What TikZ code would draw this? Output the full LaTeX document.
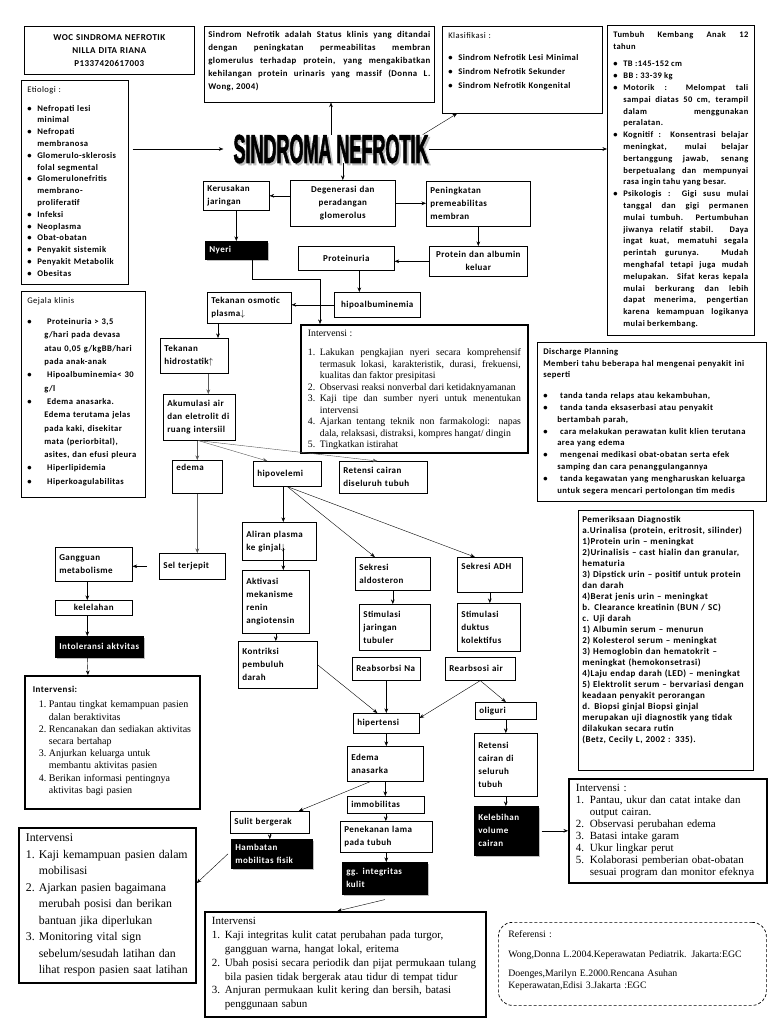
\documentclass[tikz,border=0pt]{standalone}
\usepackage{fontspec}
\usepackage{graphicx}
\usetikzlibrary{positioning,arrows.meta,shadows}

\newfontfamily\calfont[LetterSpace=5]{Carlito}
\newfontfamily\tmsfont{Liberation Serif}
\newfontfamily\ttlfont[FakeBold=2.5]{Liberation Sans Bold}
\setlength{\parindent}{0pt}

% list lines with a hanging indent
\newcommand{\bitem}[1][10pt]{\par\noindent\hangindent=#1\hangafter=1\makebox[#1][l]{\textbullet}}
\newcommand{\nitem}[2][13pt]{\par\noindent\hangindent=#1\hangafter=1\makebox[#1][l]{#2}}

\begin{document}
\begin{tikzpicture}[x=1pt,y=-1pt,
  >={Stealth[length=4.5pt,width=3.6pt]},
  box/.style={draw,line width=0.6pt,fill=white,anchor=north west,
              inner xsep=4pt,inner ysep=3pt,align=left,
              font=\calfont\bfseries\fontsize{9}{13}\selectfont},
  dark/.style={box,fill=black,text=white,
               drop shadow={shadow xshift=2pt,shadow yshift=-2pt,fill=black!25,opacity=1}},
  lst/.style={draw,line width=0.6pt,fill=white,anchor=north west,
              inner xsep=6pt,inner ysep=4pt,align=left,text height=8pt,
              font=\calfont\bfseries\fontsize{8.6}{11.8}\selectfont},
  intv/.style={draw,line width=1.8pt,fill=white,anchor=north west,
               inner xsep=7pt,inner ysep=4pt,align=left,text height=9pt,
               font=\tmsfont\fontsize{10}{12}\selectfont},
  headline/.style={inner sep=0pt,font=\ttlfont\fontsize{40}{40}\selectfont},
  soft/.style={->,gray!70!black}]

\fill[white] (0,0) rectangle (768,1024);
\useasboundingbox (0,0) rectangle (768,1024);

% ============ Header row ============
\node[box,text width=162pt,minimum height=48pt,align=center] (woc) at (24,26)
  {WOC SINDROMA NEFROTIK\\NILLA DITA RIANA\\P1337420617003};
\node[box,text width=222pt,align=justify,text height=8pt,text depth=62pt,
      font=\calfont\bfseries\fontsize{8.8}{13}\selectfont] (def) at (204,26)
  {Sindrom Nefrotik adalah Status klinis yang ditandai\linebreak
   dengan peningkatan permeabilitas membran\linebreak
   glomerulus terhadap protein, yang mengakibatkan\linebreak
   kehilangan protein urinaris yang massif (Donna L.\linebreak
   Wong, 2004)};
\node[lst,text width=148pt,text depth=71pt,
      font=\calfont\bfseries\fontsize{8.6}{14}\selectfont] (klas) at (442,26)
  {{\mdseries Klasifikasi :}\par\vspace{8pt}
   \bitem Sindrom Nefrotik Lesi Minimal
   \bitem Sindrom Nefrotik Sekunder
   \bitem Sindrom Nefrotik Kongenital\par};
\node[lst,text width=135pt,align=justify,text depth=294pt,
      font=\calfont\bfseries\fontsize{8.5}{11.8}\selectfont] (tumbuh) at (607,25)
  {Tumbuh Kembang Anak 12\linebreak tahun\par\vspace{6pt}
   \bitem TB :145-152 cm
   \bitem BB : 33-39 kg
   \bitem Motorik : Melompat tali\linebreak sampai diatas 50 cm, terampil\linebreak
     dalam menggunakan\linebreak peralatan.
   \bitem Kognitif : Konsentrasi belajar\linebreak meningkat, mulai belajar\linebreak
     bertanggung jawab, senang\linebreak berpetualang dan mempunyai\linebreak
     rasa ingin tahu yang besar.
   \bitem Psikologis : Gigi susu mulai\linebreak tanggal dan gigi permanen\linebreak
     mulai tumbuh. Pertumbuhan\linebreak jiwanya relatif stabil. Daya\linebreak
     ingat kuat, mematuhi segala\linebreak perintah gurunya. Mudah\linebreak
     menghafal tetapi juga mudah\linebreak melupakan. Sifat keras kepala\linebreak
     mulai berkurang dan lebih\linebreak dapat menerima, pengertian\linebreak
     karena kemampuan logikanya\linebreak mulai berkembang.\par};

% ============ Left column lists ============
\node[lst,text width=95pt,text depth=188pt] (etiologi) at (21,80)
  {{\mdseries Etiologi :}\par\vspace{7pt}
   \bitem Nefropati lesi\newline minimal
   \bitem Nefropati\newline membranosa
   \bitem Glomerulo-sklerosis\newline folal segmental
   \bitem Glomerulonefritis\newline membrano-\newline proliferatif
   \bitem Infeksi
   \bitem Neoplasma
   \bitem Obat-obatan
   \bitem Penyakit sistemik
   \bitem Penyakit Metabolik
   \bitem Obesitas\par};
\node[lst,text width=112pt,text depth=190pt,
      font=\calfont\bfseries\fontsize{8.6}{13.3}\selectfont] (gejala) at (21,291)
  {{\mdseries Gejala klinis}\par\vspace{8pt}
   \bitem[17pt] Proteinuria > 3,5\newline g/hari pada devasa\newline atau 0,05 g/kgBB/hari\newline pada anak-anak
   \bitem[17pt] Hipoalbuminemia< 30\newline g/l
   \bitem[17pt] Edema anasarka.\newline Edema terutama jelas\newline pada kaki, disekitar\newline mata (periorbital),\newline asites, dan efusi pleura
   \bitem[17pt] Hiperlipidemia
   \bitem[17pt] Hiperkoagulabilitas\par};

% ============ Title ============
\node[headline,text=gray!50] (titleshade) at (333,151) {\scalebox{0.45}[1]{SINDROMA NEFROTIK}};
\node[headline] (title) at (331,149) {\scalebox{0.45}[1]{SINDROMA NEFROTIK}};

% ============ Upper flow ============
\node[box,text width=58pt,minimum height=29pt] (kerusakan) at (203,181) {Kerusakan\\jaringan};
\node[box,text width=97pt,minimum height=46pt,align=center] (degenerasi) at (290,180)
  {Degenerasi dan\\peradangan\\glomerolus};
\node[box,text width=96pt,minimum height=45pt] (peningkatan) at (426,181)
  {Peningkatan\\premeabilitas\\membran};
\node[dark,text width=54pt,minimum height=18pt] (nyeri) at (205,241) {Nyeri};
\node[box,text width=88pt,minimum height=24pt,align=center] (proteinuria) at (298,246) {Proteinuria};
\node[box,text width=90pt,minimum height=30pt,align=center] (protalb) at (429,246)
  {Protein dan albumin\\keluar};
\node[box,text width=78pt,minimum height=25pt,align=center] (hipoalb) at (334,292) {hipoalbuminemia};
\node[box,text width=76pt,minimum height=31pt] (tekos) at (207,292) {Tekanan osmotic\\plasma$\downarrow$};
\node[box,text width=60pt,minimum height=35pt] (tekhid) at (160,338) {Tekanan\\hidrostatik$\uparrow$};
\node[box,text width=64pt,minimum height=46pt] (akum) at (163,394)
  {Akumulasi air\\dan eletrolit di\\ruang intersiil};

% ============ Middle flow ============
\node[box,text width=42pt,minimum height=33pt,text depth=18pt] (edema) at (172,460) {edema};
\node[box,text width=60pt,minimum height=25pt] (hipovelemi) at (253,461) {hipovelemi};
\node[box,text width=80pt,minimum height=32pt] (retensi) at (339,461) {Retensi cairan\\diseluruh tubuh};
\node[box,text width=58pt,minimum height=26pt] (selterjepit) at (159,553) {Sel terjepit};
\node[box,text width=66pt,minimum height=38pt] (aliran) at (242,522) {Aliran plasma\\ke ginjal$\downarrow$};
\node[box,text width=67pt,minimum height=33pt] (aldosteron) at (355,557) {Sekresi\\aldosteron};
\node[box,text width=57pt,minimum height=35pt,text depth=16pt] (adh) at (457,557) {Sekresi ADH};
\node[box,text width=59pt,minimum height=63pt] (aktivasi) at (242,570)
  {Aktivasi\\mekanisme\\renin\\angiotensin};
\node[box,text width=71pt,minimum height=47pt] (kontriksi) at (238,641) {Kontriksi\\pembuluh\\darah};
\node[box,text width=63pt,minimum height=46pt] (stimjaringan) at (359,604) {Stimulasi\\jaringan\\tubuler};
\node[box,text width=55pt,minimum height=48pt] (stimduktus) at (457,603) {Stimulasi\\duktus\\kolektifus};
\node[box,text width=60pt,minimum height=23pt] (reabna) at (352,657) {Reabsorbsi Na};
\node[box,text width=62pt,minimum height=23pt] (reabair) at (445,657) {Rearbsosi air};

% ============ Activity branch ============
\node[box,text width=69pt,minimum height=34pt] (gangguan) at (55,547) {Gangguan\\metabolisme};
\node[box,text width=69pt,minimum height=15pt,align=center] (kelelahan) at (55,600) {kelelahan};
\node[dark,text width=80pt,minimum height=21pt] (intoleransi) at (55,636) {Intoleransi aktvitas};

% ============ Lower flow ============
\node[box,text width=58pt,minimum height=20pt] (hipertensi) at (353,713) {hipertensi};
\node[box,text width=53pt,minimum height=17pt] (oliguri) at (475,702) {oliguri};
\node[box,text width=68pt,minimum height=35pt] (anasarka) at (347,746) {Edema\\anasarka};
\node[box,text width=55pt,minimum height=63pt] (retensitubuh) at (474,733)
  {Retensi\\cairan di\\seluruh\\tubuh};
\node[box,text width=69pt,minimum height=17pt] (immobilitas) at (347,796) {immobilitas};
\node[box,text width=71pt,minimum height=22pt] (sulit) at (230,811) {Sulit bergerak};
\node[box,text width=84pt,minimum height=31pt] (penekanan) at (340,821) {Penekanan lama\\pada tubuh};
\node[dark,text width=56pt,minimum height=49pt] (kelebihan) at (474,806) {Kelebihan\\volume\\cairan};
\node[dark,text width=73pt,minimum height=29pt] (hambatan) at (231,839) {Hambatan\\mobilitas fisik};
\node[dark,text width=77pt,minimum height=32pt] (integritas) at (342,862) {gg. integritas\\kulit};

% ============ Right column ============
\node[lst,text width=217pt,text depth=143pt] (discharge) at (537,342)
  {Discharge Planning\\Memberi tahu beberapa hal mengenai penyakit ini\\seperti\par\vspace{9pt}
   \bitem[14pt] tanda tanda relaps atau kekambuhan,
   \bitem[14pt] tanda tanda eksaserbasi atau penyakit\newline bertambah parah,
   \bitem[14pt] cara melakukan perawatan kulit klien terutana\newline area yang edema
   \bitem[14pt] mengenai medikasi obat-obatan serta efek\newline samping dan cara penanggulangannya
   \bitem[14pt] tanda kegawatan yang mengharuskan keluarga\newline untuk segera mencari pertolongan tim medis\par};
\node[lst,text width=167pt,inner xsep=4pt,text depth=244pt,
      font=\calfont\bfseries\fontsize{9}{11}\selectfont] (diagnostik) at (578,510)
  {Pemeriksaan Diagnostik\\
   a.Urinalisa (protein, eritrosit, silinder)\\
   1)Protein urin –  meningkat\\
   2)Urinalisis  – cast hialin dan granular,\\
   hematuria\\
   3) Dipstick urin –  positif untuk protein\\
   dan darah\\
   4)Berat jenis urin – meningkat\\
   b. Clearance kreatinin (BUN / SC)\\
   c. Uji darah\\
   1) Albumin serum –  menurun\\
   2) Kolesterol serum  –  meningkat\\
   3) Hemoglobin dan hematokrit –\\
   meningkat (hemokonsetrasi)\\
   4)Laju endap darah (LED)  – meningkat\\
   5) Elektrolit serum  – bervariasi dengan\\
   keadaan penyakit perorangan\\
   d. Biopsi ginjal Biopsi ginjal\\
   merupakan uji diagnostik yang tidak\\
   dilakukan secara rutin\\
   (Betz, Cecily L, 2002 : 335).};

% ============ Intervention boxes ============
\node[intv,text width=213pt,align=justify,inner ysep=3pt,text depth=113pt,
      font=\tmsfont\fontsize{9.8}{11.5}\selectfont] (interv1) at (300,324)
  {Intervensi :\par\vspace{7.5pt}
   \nitem[12pt]{1.}Lakukan pengkajian nyeri secara komprehensif\linebreak
     termasuk lokasi, karakteristik, durasi, frekuensi,\linebreak kualitas dan faktor presipitasi
   \nitem[12pt]{2.}Observasi reaksi nonverbal dari ketidaknyamanan
   \nitem[12pt]{3.}Kaji tipe dan sumber nyeri untuk menentukan\linebreak intervensi
   \nitem[12pt]{4.}Ajarkan tentang teknik non farmakologi: napas\linebreak
     dala, relaksasi, distraksi, kompres hangat/ dingin
   \nitem[12pt]{5.}Tingkatkan istirahat\par};
\node[intv,text width=159pt,inner xsep=8pt,inner ysep=5pt,text height=12pt,text depth=111pt,
      font=\tmsfont\fontsize{10}{12.2}\selectfont] (interv2) at (24,675)
  {{\calfont\bfseries\fontsize{9}{12.2}\selectfont Intervensi:}\par\vspace{2.8pt}
   \nitem[16pt]{\hspace{6pt}1.}Pantau tingkat kemampuan pasien\newline dalan beraktivitas
   \nitem[16pt]{\hspace{6pt}2.}Rencanakan dan sediakan aktivitas\newline secara bertahap
   \nitem[16pt]{\hspace{6pt}3.}Anjurkan keluarga untuk\newline membantu aktivitas pasien
   \nitem[16pt]{\hspace{6pt}4.}Berikan informasi pentingnya\newline aktivitas bagi pasien\par};
\node[intv,text width=163pt,text height=10pt,text depth=137pt,
      font=\tmsfont\fontsize{11.8}{16.5}\selectfont] (interv3) at (18,827)
  {Intervensi\par
   \nitem{1.}Kaji kemampuan pasien dalam\newline mobilisasi
   \nitem{2.}Ajarkan pasien bagaimana\newline merubah posisi dan berikan\newline bantuan jika diperlukan
   \nitem{3.}Monitoring vital sign\newline sebelum/sesudah latihan dan\newline lihat respon pasien saat latihan\par};
\node[intv,text width=184pt,text depth=87pt,
      font=\tmsfont\fontsize{11}{12}\selectfont] (interv4) at (568,778)
  {Intervensi :\par
   \nitem[14pt]{1.}Pantau, ukur dan catat intake dan\newline output cairan.
   \nitem[14pt]{2.}Observasi perubahan edema
   \nitem[14pt]{3.}Batasi intake garam
   \nitem[14pt]{4.}Ukur lingkar perut
   \nitem[14pt]{5.}Kolaborasi pemberian obat-obatan\newline sesuai program dan monitor efeknya\par};
\node[intv,text width=267pt,text depth=88pt,
      font=\tmsfont\fontsize{11}{13.8}\selectfont] (interv5) at (204,911)
  {Intervensi\par
   \nitem{1.}Kaji integritas kulit catat perubahan pada turgor,\newline gangguan warna, hangat lokal, eritema
   \nitem{2.}Ubah posisi secara periodik dan pijat permukaan tulang\newline bila pasien tidak bergerak atau tidur di tempat tidur
   \nitem{3.}Anjuran permukaan kulit kering dan bersih, batasi\newline penggunaan sabun\par};
\node[draw,dash pattern=on 3pt off 2pt,rounded corners=14pt,line width=0.7pt,anchor=north west,
      inner xsep=10pt,inner ysep=6pt,align=left,text width=248pt,text height=9pt,text depth=62pt,
      font=\tmsfont\fontsize{9.8}{12}\selectfont] (referensi) at (498,922)
  {Referensi :\\[8pt]Wong,Donna L.2004.Keperawatan Pediatrik. Jakarta:EGC\\[7pt]
   Doenges,Marilyn E.2000.Rencana Asuhan\\Keperawatan,Edisi 3.Jakarta :EGC};

% ============ Connectors: title ============
\draw[->] ([xshift=4pt]etiologi.east |- title.west) -- ([xshift=-10pt]title.west);
\draw[->] (title.north) -- (title.north |- def.south);
\draw[->] ([xshift=-6pt]title.north east) -- ([xshift=15pt]klas.south west);
\draw[->] (title.east) -- (title.east -| tumbuh.west);
\draw[->] (title.south -| degenerasi.north) -- (degenerasi.north);

% ============ Connectors: upper flow ============
\draw[->] (degenerasi.west |- kerusakan.east) -- (kerusakan.east);
\draw[->] (degenerasi.east) -- (degenerasi.east -| peningkatan.west);
\draw[->] (kerusakan.south) -- (kerusakan.south |- nyeri.north);
\draw[->] (peningkatan.south) -- (peningkatan.south |- protalb.north);
\draw[->] (protalb.west) -- (protalb.west -| proteinuria.east);
\draw[->] ([xshift=13pt]proteinuria.south) -- ([xshift=13pt]proteinuria.south |- hipoalb.north);
\draw[->] (hipoalb.west) -- (hipoalb.west -| tekos.east);
\draw[->] ([xshift=16pt]nyeri.south) -- ++(0,20) -| ([xshift=20pt]interv1.north west);
\draw[->] ([xshift=11pt]tekos.south west) -- ([xshift=11pt]tekos.south west |- tekhid.north);
\draw[soft] ([xshift=14pt]tekhid.south) -- ([xshift=14pt]tekhid.south |- akum.north);

% ============ Connectors: middle flow ============
\draw[soft] (edema.north |- akum.south) -- (edema.north);
\draw[soft] ([xshift=-1pt]akum.south) -- ([xshift=-20pt]hipovelemi.north);
\draw[soft] ([xshift=-1pt]akum.south) -- ([xshift=-6pt]retensi.north);
\draw[soft] (edema.south) -- (edema.south |- selterjepit.north);
\draw[->,shorten <=12pt] (selterjepit.west) -- (selterjepit.west -| gangguan.east);
\draw[->] ([xshift=-6.5pt]gangguan.south) -- ([xshift=-6.5pt]kelelahan.north);
\draw[->] ([xshift=-6.5pt]kelelahan.south) -- ([xshift=-12pt]intoleransi.north);
\draw[->] ([xshift=-12pt]intoleransi.south) -- ([xshift=-24.5pt]interv2.north);
\draw[->] ([xshift=4pt]aliran.north |- hipovelemi.south) -- ([xshift=4pt]aliran.north);
\draw[->] (hipovelemi.south) -- ([xshift=-18pt]aldosteron.north);
\draw[->] (hipovelemi.south) -- ([xshift=-15pt]adh.north);
\draw[->] ([xshift=4pt,yshift=-7pt]aliran.center) -- ([xshift=4pt]aliran.south |- aktivasi.north);
\draw[->] (aktivasi.south) -- (aktivasi.south |- kontriksi.north);
\draw[->] (aldosteron.south) -- (aldosteron.south |- stimjaringan.north);
\draw[->] (adh.south) -- (adh.south |- stimduktus.north);

% ============ Connectors: lower flow ============
\draw[->] (kontriksi.east) -- ([xshift=-9pt]hipertensi.north);
\draw[->] (reabna.south) -- (reabna.south |- hipertensi.north);
\draw[->] (reabair.south) -- ([yshift=-5pt]hipertensi.north east);
\draw[->] (reabair.south) -- (oliguri.north);
\draw[->] (hipertensi.south) -- (hipertensi.south |- anasarka.north);
\draw[->] (anasarka.south) -- (anasarka.south |- immobilitas.north);
\draw[->] ([xshift=-15pt]anasarka.south) -- ([xshift=29pt]sulit.north);
\draw[->] (immobilitas.south) -- (immobilitas.south |- penekanan.north);
\draw[->] (penekanan.south) -- (penekanan.south |- integritas.north);
\draw[->] (sulit.south) -- (sulit.south |- hambatan.north);
\draw[->] (oliguri.south) -- (oliguri.south |- retensitubuh.north);
\draw[->] (retensitubuh.south) -- (retensitubuh.south |- kelebihan.north);
\draw[->] ([xshift=3pt]kelebihan.east) -- (kelebihan.east -| interv4.west);
\draw[->] ([yshift=-5pt]integritas.south) -- ([xshift=-8pt]interv5.north);
\draw[->] ([xshift=-3pt]hambatan.west) -- ([yshift=-56pt]interv3.north east);

\end{tikzpicture}
\end{document}
